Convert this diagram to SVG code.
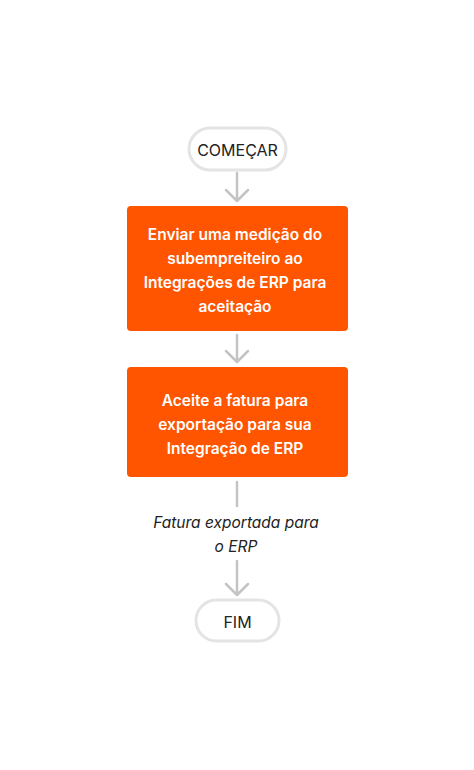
<svg xmlns="http://www.w3.org/2000/svg" width="474" height="770" viewBox="0 0 474 770">
<style>
.pill{fill:#ffffff;stroke:#e4e4e4;stroke-width:3}
.box{fill:#ff5400}
.pt{font-family:Inter,"Liberation Sans",sans-serif;font-size:16px;fill:#222222;text-anchor:middle}
.bt{font-family:Inter,"Liberation Sans",sans-serif;font-size:15.5px;font-weight:600;fill:#ffffff;text-anchor:middle}
.lt{font-family:Inter,"Liberation Sans",sans-serif;font-size:15.5px;font-style:italic;fill:#222222;text-anchor:middle}
.c{fill:none;stroke:#c4c4c4;stroke-width:2.5;stroke-linecap:round;stroke-linejoin:round}
</style>
<rect width="474" height="770" fill="#ffffff"/>
<g id="connectors">
<path class="c" d="M237 173V200M226 190L237 201L248 190"/>
<path class="c" d="M237 335V361M226 351L237 362L248 351"/>
<path class="c" d="M237 482V506"/>
<path class="c" d="M237 561V594M226 584L237 595L248 584"/>
</g>
<g id="start">
<rect class="pill" x="189" y="128" width="97" height="42" rx="21"/>
<text class="pt" x="237.5" y="155.5">COMEÇAR</text>
</g>
<g id="step1">
<rect class="box" x="127" y="206" width="221" height="125" rx="4"/>
<text class="bt" x="235" y="240">Enviar uma medição do</text>
<text class="bt" x="235" y="264">subempreiteiro ao</text>
<text class="bt" x="235" y="288">Integrações de ERP para</text>
<text class="bt" x="235" y="312">aceitação</text>
</g>
<g id="step2">
<rect class="box" x="127" y="367" width="221" height="110" rx="4"/>
<text class="bt" x="235" y="406">Aceite a fatura para</text>
<text class="bt" x="235" y="430">exportação para sua</text>
<text class="bt" x="235" y="454">Integração de ERP</text>
</g>
<g id="label">
<text class="lt" x="236" y="528">Fatura exportada para</text>
<text class="lt" x="236" y="552">o ERP</text>
</g>
<g id="end">
<rect class="pill" x="196" y="600" width="83" height="41" rx="20.5"/>
<text class="pt" x="237.5" y="627.5">FIM</text>
</g>
</svg>
